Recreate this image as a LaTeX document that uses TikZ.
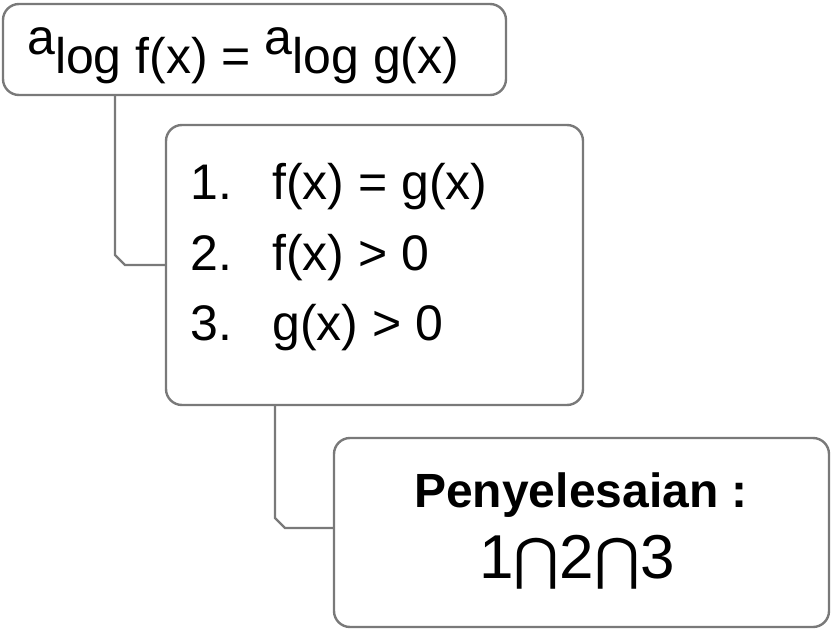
\documentclass[tikz,border=0pt]{standalone}
\usepackage{fontspec}
\setmainfont{Liberation Sans}
\newfontfamily\dejavu{DejaVu Sans}
\begin{document}
\begin{tikzpicture}[x=1pt,y=-1pt,
  bx/.style={draw=gray!95!black,line width=2.4pt,rounded corners=16pt},
  cn/.style={draw=gray!95!black,line width=2.4pt},
  lt/.style={anchor=base west,inner sep=0,font=\fontsize{50}{56}\selectfont}]
\useasboundingbox (0,0) rectangle (832,631);
\draw[bx] (3,4) rectangle (506,95);
\node[anchor=base west,inner sep=0,font=\fontsize{50}{56}\selectfont] (t1) at (27,74) {\raisebox{19pt}{a}log f(x) = \raisebox{19pt}{a}log g(x)};
\coordinate (b1) at (115,95);
\draw[bx] (166,125) rectangle (583,405);
\node[lt] (l1) at (190,200) {1.};
\node[lt] (l2) at (190,270) {2.};
\node[lt] (l3) at (190,340) {3.};
\node[lt] (m1) at (272,200) {f(x) = g(x)};
\node[lt] (m2) at (272,270) {f(x) > 0};
\node[lt] (m3) at (272,340) {g(x) > 0};
\coordinate (b2l) at (166,265);
\coordinate (b2b) at (275,405);
\draw[bx] (334,438) rectangle (829,627);
\node (p) at (581,495) {\fontsize{48}{54}\selectfont\bfseries Penyelesaian :};
\node (u) at (577,562) {\fontsize{62}{68}\selectfont 1{\dejavu\fontsize{56}{60}\selectfont ⋂}2{\dejavu\fontsize{56}{60}\selectfont ⋂}3};
\coordinate (b3l) at (334,528);
\draw[cn] (b1) -- (115,255) -- (125,265) -- (b2l);
\draw[cn] (b2b) -- (275,518) -- (285,528) -- (b3l);
\end{tikzpicture}
\end{document}
